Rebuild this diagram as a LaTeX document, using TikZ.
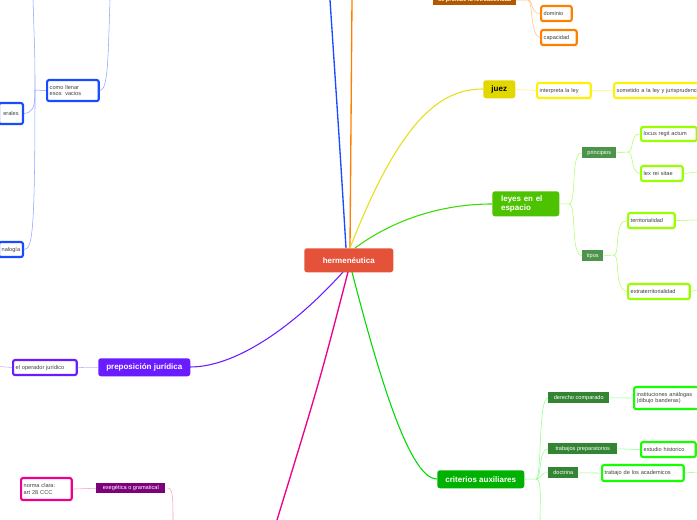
\documentclass[tikz,border=0pt]{standalone}
\usepackage{fontspec}
\setmainfont{Liberation Sans}
\definecolor{hred}{HTML}{E5523A}
\definecolor{hblue}{HTML}{1A4CFF}
\definecolor{hpur}{HTML}{6A1BFF}
\begin{document}
\begin{tikzpicture}[x=0.75pt,y=-0.75pt,
 leaf/.style={draw=#1,line width=1.6pt,fill=white,rounded corners=1.5pt,font=\fontsize{4.2}{5}\selectfont,text=black!75,inner sep=2pt,align=left,anchor=north west},
 lw/.style={text width=#1*0.75pt-5pt},
 tag/.style={fill=#1,text=white,font=\fontsize{4.2}{5}\selectfont,inner sep=0pt,anchor=north west},
 main/.style={fill=#1,text=white,rounded corners=2pt,font=\bfseries\fontsize{6}{7}\selectfont,inner sep=0pt,anchor=north west,align=left}]
\useasboundingbox (0,0) rectangle (697,520);
% lines from center
\draw[hblue,line width=1pt] (346,248) .. controls (340,150) .. (330,0);
\draw[orange,line width=1pt] (350,248) -- (352,0);
\draw[yellow!90!black,line width=0.8pt] (350,248) .. controls (400,120) and (440,89) .. (483,89);
\draw[green!80!black!70!lime,line width=0.8pt] (355,248) .. controls (400,215) and (450,204) .. (492,204);
\draw[green!85!black,line width=0.8pt] (352,272) .. controls (380,380) and (410,479) .. (437,479);
\draw[hpur,line width=0.8pt] (343,272) .. controls (300,320) and (240,367) .. (190,367);
\draw[magenta,line width=1pt] (348,272) .. controls (320,380) .. (277,520);
\node[main=hred,minimum width=89*0.75pt,minimum height=24*0.75pt,align=center] (h) at (304,248) {hermenéutica};
% orange branch
\node[tag=orange!70!black,minimum width=83*0.75pt,minimum height=10*0.75pt] (ret) at (433,-5) {\bfseries se prohibe la retroactividad};
\node[leaf=orange,lw=32,minimum height=15*0.75pt] (dom) at (540,5) {dominio};
\node[leaf=orange,lw=37,minimum height=15*0.75pt] (cap) at (540,29) {capacidad};
\draw[orange!50] (516,0) -- (528,0) .. controls (533,0) and (530,13) .. (dom.west);
\draw[orange!50] (528,0) .. controls (533,0) and (530,36) .. (cap.west);
% juez
\node[main=yellow!75!olive,text=black,minimum width=32*0.75pt,minimum height=18*0.75pt,align=center] (juez) at (483,80) {juez};
\node[leaf=yellow,lw=55,minimum height=15*0.75pt] (int) at (536,82) {interpreta la ley};
\node[leaf=yellow,lw=92,minimum height=15*0.75pt] (som) at (613,82) {sometido a la ley y jurisprudencia};
\draw[yellow!60] (juez.east) -- (int.west) (int.east) -- (som.west);
% leyes en el espacio
\node[main=green!60!black!60!lime,minimum width=67*0.75pt,minimum height=25*0.75pt,text width=60*0.75pt] (ley) at (492,191) {\ \ leyes en el\\\ \ espacio};
\node[tag=green!40!black!70,minimum width=34*0.75pt,minimum height=11*0.75pt,align=center] (pri) at (582,147) {principios};
\node[tag=green!40!black!70,minimum width=21*0.75pt,minimum height=11*0.75pt,align=center] (tip) at (582,250) {tipos};
\node[leaf=lime!80!green,lw=57,minimum height=14*0.75pt] (loc) at (640,126) {locus regit actum};
\node[leaf=lime!80!green,lw=43,minimum height=15*0.75pt] (lex) at (640,165) {lex rei sitae};
\node[leaf=lime!80!green,lw=48,minimum height=15*0.75pt] (ter) at (627,212) {territorialidad};
\node[leaf=lime!80!green,lw=63,minimum height=15*0.75pt] (ext) at (627,283) {extraterritorialidad};
\begin{scope}[lime!60!green!60]
\draw (ley.east) -- (569,204) .. controls (577,204) and (570,152) .. (pri.west);
\draw (569,204) .. controls (577,204) and (570,255) .. (tip.west);
\draw (pri.east) -- (628,152) .. controls (634,152) and (630,133) .. (loc.west);
\draw (628,152) .. controls (634,152) and (630,172) .. (lex.west);
\draw (tip.east) -- (614,255) .. controls (620,255) and (614,220) .. (ter.west);
\draw (614,255) .. controls (620,255) and (614,290) .. (ext.west);
\draw (lex.east) -- (697,172) (ter.east) -- (697,220) (ext.east) -- (697,290);
\end{scope}
% criterios auxiliares
\node[main=green!70!black,minimum width=87*0.75pt,minimum height=18*0.75pt,align=center] (cri) at (437,470) {criterios auxiliares};
\node[tag=green!40!black!80,minimum width=61*0.75pt,minimum height=11*0.75pt,align=center] (dc) at (548,392) {derecho comparado};
\node[tag=green!40!black!80,minimum width=69*0.75pt,minimum height=11*0.75pt,align=center] (tp) at (548,443) {trabajos preparatorios};
\node[tag=green!40!black!80,minimum width=30*0.75pt,minimum height=11*0.75pt,align=center] (doc) at (548,467) {doctrina};
\node[leaf=green!90!lime,lw=68,minimum height=22*0.75pt] (ins) at (633,386) {instituciones análogas\\(dibujo banderas)};
\node[leaf=green!90!lime,lw=56,minimum height=15*0.75pt] (est) at (640,441) {estudio historico};
\node[leaf=green!90!lime,lw=83,minimum height=16*0.75pt] (tra) at (601,464) {trabajo de los academicos};
\begin{scope}[green!45]
\draw (cri.east) -- (536,479) .. controls (542,479) and (538,398) .. (dc.west);
\draw (536,479) .. controls (542,479) and (538,449) .. (tp.west);
\draw (536,479) .. controls (542,479) and (540,472) .. (doc.west);
\draw (536,479) .. controls (542,479) and (540,500) .. (540,520);
\draw (dc.east) -- (ins.west) (tp.east) -- (est.west) (doc.east) -- (tra.west) (tra.east) -- (697,472);
\end{scope}
% preposicion
\node[main=hpur,minimum width=92*0.75pt,minimum height=18*0.75pt,align=center] (pre) at (98,358) {preposición jurídica};
\node[leaf=hpur,lw=65,minimum height=15*0.75pt] (ope) at (12,359) {el operador jurídico};
\draw[hpur!35] (pre.west) -- (ope.east) (ope.west) -- (0,366.5);
% magenta branch
\node[tag=violet!60!magenta!70!black,minimum width=69*0.75pt,minimum height=10*0.75pt,align=center] (exe) at (96,483) {exegética o gramatical};
\node[leaf=magenta,lw=52,minimum height=22*0.75pt] (nor) at (20,477) {norma clara:\\art 28 CCC};
\draw[magenta!40] (exe.west) -- (nor.east);
\draw[magenta!40] (168,488) .. controls (173,488) and (173,500) .. (173,520);
% left blue branch
\node[leaf=hblue,lw=53,minimum height=21*0.75pt] (com) at (46,79) {como llenar\\esos\ \ vacios};
\node[leaf=hblue,minimum width=24*0.75pt,minimum height=21*0.75pt,anchor=north east] (gen) at (24,102) {erales};
\node[leaf=hblue,minimum width=24*0.75pt,minimum height=15*0.75pt,anchor=north east] (ana) at (24,241) {nalogía};
\begin{scope}[hblue!50]
\draw (com.west) -- (35,90) .. controls (35,60) .. (33,0);
\draw (35,90) .. controls (35,110) and (32,112) .. (gen.east);
\draw (35,90) .. controls (35,240) and (32,248) .. (ana.east);
\draw (com.east) .. controls (108,90) and (108,60) .. (110,0);
\end{scope}
\end{tikzpicture}
\end{document}
